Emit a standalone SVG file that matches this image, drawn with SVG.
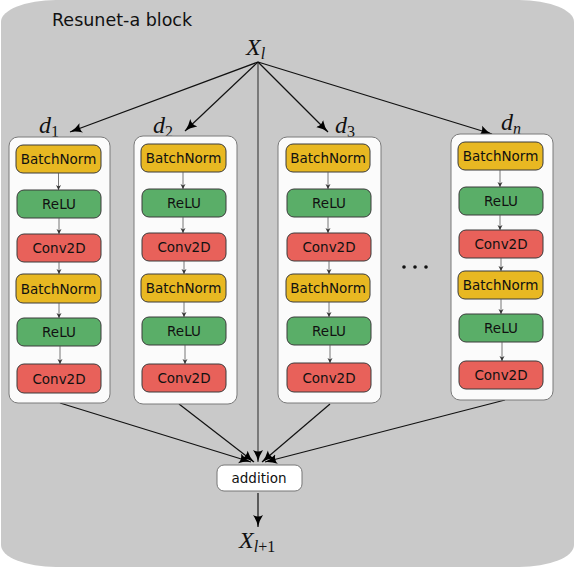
<svg xmlns="http://www.w3.org/2000/svg" width="574" height="568" viewBox="0 0 574 568">
<style>
.col{fill:#fbfbfb;stroke:#7a7a7a;stroke-width:1}
.bn{fill:#e8b822;stroke:#3a3a3a;stroke-width:1}
.relu{fill:#5aae68;stroke:#3a3a3a;stroke-width:1}
.conv{fill:#e8615a;stroke:#3a3a3a;stroke-width:1}
.lbl{font-family:"DejaVu Sans",sans-serif;font-size:13.5px;fill:#111;text-anchor:middle;dominant-baseline:central}
.math{font-family:"Liberation Serif",serif;font-style:italic;fill:#111}
.inner{stroke:#555;stroke-width:0.8;fill:none;marker-end:url(#sm)}
.main{stroke:#111;stroke-width:1.2;fill:none;marker-end:url(#big)}
</style>
<defs>
<marker id="sm" markerWidth="6" markerHeight="6" refX="5" refY="3" orient="auto" markerUnits="userSpaceOnUse">
<path d="M0,0.5 L5,3 L0,5.5 L1.5,3 Z" fill="#333"/>
</marker>
<marker id="big" markerWidth="14" markerHeight="12" refX="12" refY="6" orient="auto" markerUnits="userSpaceOnUse">
<path d="M0,1 Q6,5 12,6 Q6,7 0,11 Q3,6 0,1 Z" fill="#000"/>
</marker>
</defs>
<rect x="1" y="0" width="573" height="567" rx="55" ry="22" fill="#c9c9c9"/>
<text x="52" y="26" font-family="DejaVu Sans,sans-serif" font-size="17.5" fill="#111">Resunet-a block</text>

<g id="connectors">
<line x1="258" y1="62" x2="258" y2="462" stroke="#666" stroke-width="1.6" marker-end="url(#big)"/>
<line class="main" x1="258" y1="62" x2="70" y2="132"/>
<line class="main" x1="258" y1="62" x2="185" y2="131"/>
<line class="main" x1="258" y1="62" x2="328" y2="132"/>
<line class="main" x1="258" y1="62" x2="492" y2="134"/>
<line class="main" x1="60" y1="403" x2="251" y2="462"/>
<line class="main" x1="179" y1="404" x2="254" y2="462"/>
<line class="main" x1="330" y1="404" x2="262" y2="462"/>
<line class="main" x1="505" y1="400" x2="265" y2="462"/>
<line x1="258" y1="493" x2="258" y2="527" stroke="#111" stroke-width="1.2" marker-end="url(#big)"/>
</g>

<g id="xl"><text class="math" x="246" y="55" font-size="24">X<tspan font-size="16" dy="4">l</tspan></text></g>
<g id="d1lbl"><text class="math" x="39" y="133" font-size="24">d<tspan font-size="16" font-style="normal" dy="4">1</tspan></text></g>
<g id="d2lbl"><text class="math" x="153" y="133" font-size="24">d<tspan font-size="16" font-style="normal" dy="4">2</tspan></text></g>
<g id="d3lbl"><text class="math" x="335" y="133" font-size="24">d<tspan font-size="16" font-style="normal" dy="4">3</tspan></text></g>
<g id="dnlbl"><text class="math" x="501" y="130" font-size="24">d<tspan font-size="16" dy="4">n</tspan></text></g>

<g id="col1">
<rect class="col" x="9" y="137" width="101" height="266" rx="9"/>
<rect class="bn" x="16" y="145" width="85" height="28" rx="7"/><text class="lbl" x="58.5" y="159">BatchNorm</text>
<rect class="relu" x="17" y="190" width="84" height="28" rx="7"/><text class="lbl" x="59" y="204">ReLU</text>
<rect class="conv" x="17" y="234" width="84" height="28" rx="7"/><text class="lbl" x="59" y="248">Conv2D</text>
<rect class="bn" x="16" y="274" width="85" height="29" rx="7"/><text class="lbl" x="58.5" y="288.5">BatchNorm</text>
<rect class="relu" x="17" y="318" width="84" height="28" rx="7"/><text class="lbl" x="59" y="332">ReLU</text>
<rect class="conv" x="17" y="364" width="84" height="29" rx="7"/><text class="lbl" x="59" y="378.5">Conv2D</text>
<line class="inner" x1="58.5" y1="173" x2="58.5" y2="190"/>
<line class="inner" x1="59" y1="218" x2="59" y2="234"/>
<line class="inner" x1="59" y1="262" x2="59" y2="274"/>
<line class="inner" x1="59" y1="303" x2="59" y2="318"/>
<line class="inner" x1="60" y1="346" x2="60" y2="364"/>
</g>

<g id="col2">
<rect class="col" x="134" y="136" width="103" height="268" rx="9"/>
<rect class="bn" x="141" y="144" width="85" height="28" rx="7"/><text class="lbl" x="183.5" y="158">BatchNorm</text>
<rect class="relu" x="142" y="189" width="84" height="28" rx="7"/><text class="lbl" x="184" y="203">ReLU</text>
<rect class="conv" x="142" y="233" width="84" height="28" rx="7"/><text class="lbl" x="184" y="247">Conv2D</text>
<rect class="bn" x="141" y="274" width="85" height="28" rx="7"/><text class="lbl" x="183.5" y="288">BatchNorm</text>
<rect class="relu" x="142" y="317" width="84" height="28" rx="7"/><text class="lbl" x="184" y="331">ReLU</text>
<rect class="conv" x="142" y="364" width="84" height="28" rx="7"/><text class="lbl" x="184" y="378">Conv2D</text>
<line class="inner" x1="183" y1="172" x2="183" y2="189"/>
<line class="inner" x1="183" y1="217" x2="183" y2="233"/>
<line class="inner" x1="184" y1="261" x2="184" y2="274"/>
<line class="inner" x1="184" y1="302" x2="184" y2="317"/>
<line class="inner" x1="185" y1="345" x2="185" y2="364"/>
</g>

<g id="col3">
<rect class="col" x="278" y="137" width="103" height="266" rx="9"/>
<rect class="bn" x="286" y="144" width="84" height="28" rx="7"/><text class="lbl" x="328" y="158">BatchNorm</text>
<rect class="relu" x="287" y="189" width="84" height="28" rx="7"/><text class="lbl" x="329" y="203">ReLU</text>
<rect class="conv" x="287" y="233" width="84" height="28" rx="7"/><text class="lbl" x="329" y="247">Conv2D</text>
<rect class="bn" x="286" y="274" width="84" height="28" rx="7"/><text class="lbl" x="328" y="288">BatchNorm</text>
<rect class="relu" x="287" y="317" width="84" height="28" rx="7"/><text class="lbl" x="329" y="331">ReLU</text>
<rect class="conv" x="287" y="363" width="84" height="29" rx="7"/><text class="lbl" x="329" y="377.5">Conv2D</text>
<line class="inner" x1="328" y1="172" x2="328" y2="189"/>
<line class="inner" x1="328" y1="217" x2="328" y2="233"/>
<line class="inner" x1="329" y1="261" x2="329" y2="274"/>
<line class="inner" x1="329" y1="302" x2="329" y2="317"/>
<line class="inner" x1="330" y1="345" x2="330" y2="363"/>
</g>

<g id="dots">
<circle cx="404" cy="267" r="1.8" fill="#111"/>
<circle cx="415" cy="267" r="1.8" fill="#111"/>
<circle cx="426" cy="267" r="1.8" fill="#111"/>
</g>

<g id="coln">
<rect class="col" x="451" y="134" width="102" height="266" rx="9"/>
<rect class="bn" x="458" y="142" width="85" height="28" rx="7"/><text class="lbl" x="500.5" y="156">BatchNorm</text>
<rect class="relu" x="459" y="187" width="84" height="28" rx="7"/><text class="lbl" x="501" y="201">ReLU</text>
<rect class="conv" x="459" y="230" width="84" height="28" rx="7"/><text class="lbl" x="501" y="244">Conv2D</text>
<rect class="bn" x="458" y="271" width="85" height="28" rx="7"/><text class="lbl" x="500.5" y="285">BatchNorm</text>
<rect class="relu" x="459" y="314" width="84" height="28" rx="7"/><text class="lbl" x="501" y="328">ReLU</text>
<rect class="conv" x="459" y="361" width="84" height="28" rx="7"/><text class="lbl" x="501" y="375">Conv2D</text>
<line class="inner" x1="500" y1="170" x2="500" y2="187"/>
<line class="inner" x1="500" y1="215" x2="500" y2="230"/>
<line class="inner" x1="501" y1="258" x2="501" y2="271"/>
<line class="inner" x1="501" y1="299" x2="501" y2="314"/>
<line class="inner" x1="502" y1="342" x2="502" y2="361"/>
</g>

<g id="addition">
<rect x="217" y="465" width="85" height="26" rx="7" fill="#fff" stroke="#777" stroke-width="1"/>
<text class="lbl" x="259" y="478">addition</text>
</g>

<g id="xl1"><text class="math" x="239" y="548" font-size="24">X<tspan font-size="16" dy="4">l</tspan><tspan font-size="16" font-style="normal">+1</tspan></text></g>
</svg>
